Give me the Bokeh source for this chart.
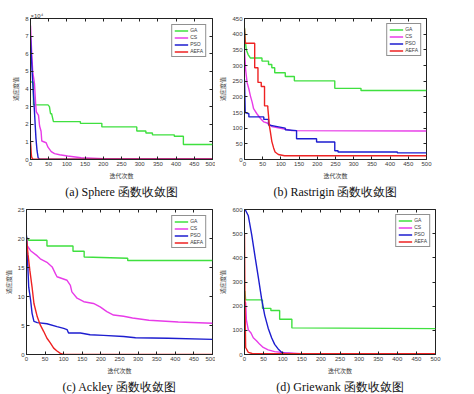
from bokeh.plotting import figure
from bokeh.layouts import column, row
from bokeh.models import Range1d, FixedTicker, LinearAxis, Legend, LegendItem, Title
from bokeh.embed import file_html
from bokeh.resources import INLINE

# ---------------- data ----------------
NAMES = ["GA", "CS", "PSO", "AEFA"]
ITER_TICKS = [0, 50, 100, 150, 200, 250, 300, 350, 400, 450, 500]

# (a) Sphere, values in units of 1e4
SPH_GA_x = [0, 8, 8, 48, 52, 55, 58, 63, 137, 137, 196, 196, 292, 292, 317, 317, 335, 335, 395, 395, 420, 420, 500]
SPH_GA_y = [4.4, 4.4, 3.1, 3.1, 3.0, 2.6, 2.6, 2.15, 2.15, 2.05, 2.05, 1.85, 1.85, 1.62, 1.62, 1.5, 1.5, 1.4, 1.4, 1.32, 1.32, 0.85, 0.85]
SPH_CS_x = [0, 3, 6, 11, 14, 16, 22, 25, 29, 31, 43, 48, 57, 66, 80, 102, 139, 200, 500]
SPH_CS_y = [7.6, 6.2, 5.0, 4.3, 3.2, 2.7, 2.5, 1.9, 1.6, 1.05, 0.95, 0.7, 0.45, 0.33, 0.27, 0.2, 0.1, 0.05, 0.03]
SPH_PSO_x = [0, 3, 6, 9, 12, 15, 18, 21, 25, 500]
SPH_PSO_y = [7.0, 5.6, 4.4, 3.4, 2.3, 1.2, 0.5, 0.1, 0.02, 0.02]
SPH_AEFA_x = [0, 1, 2, 3, 5, 8, 500]
SPH_AEFA_y = [1.0, 0.7, 0.35, 0.15, 0.05, 0.01, 0.01]
SPH_YTICKS = [0, 1, 2, 3, 4, 5, 6, 7, 8]

# (b) Rastrigin
RAS_GA_x = [0, 2, 5, 10, 16, 48, 48, 66, 66, 75, 75, 83, 83, 112, 112, 137, 137, 248, 248, 320, 320, 500]
RAS_GA_y = [420, 380, 350, 335, 324, 324, 314, 314, 303, 303, 293, 293, 277, 277, 265, 265, 251, 251, 227, 227, 220, 220]
RAS_CS_x = [0, 3, 7, 12, 16, 21, 25, 34, 44, 53, 66, 75, 103, 130, 500]
RAS_CS_y = [350, 288, 246, 225, 204, 183, 162, 146, 131, 120, 115, 105, 99, 92, 91]
RAS_PSO_x = [0, 2, 12, 12, 53, 53, 66, 66, 90, 112, 112, 143, 143, 198, 198, 248, 248, 257, 257, 420, 420, 500]
RAS_PSO_y = [256, 150, 146, 136, 136, 128, 128, 110, 105, 100, 95, 92, 66, 66, 56, 56, 28, 28, 24, 24, 21, 21]
RAS_AEFA_x = [0, 2, 28, 28, 37, 37, 46, 46, 55, 55, 64, 64, 66, 68, 71, 75, 80, 84, 93, 110, 500]
RAS_AEFA_y = [418, 371, 371, 293, 293, 246, 246, 233, 233, 171, 171, 165, 140, 110, 89, 58, 37, 24, 16, 12, 12]
RAS_YTICKS = [0, 50, 100, 150, 200, 250, 300, 350, 400, 450]

# (c) Ackley
ACK_GA_x = [0, 6, 6, 55, 55, 125, 125, 155, 155, 272, 272, 500]
ACK_GA_y = [20.2, 19.7, 19.7, 19.7, 18.7, 18.7, 17.8, 17.8, 16.8, 16.6, 16.2, 16.2]
ACK_CS_x = [0, 2, 11, 29, 37, 55, 69, 78, 82, 109, 118, 122, 136, 154, 180, 198, 216, 234, 261, 285, 329, 408, 500]
ACK_CS_y = [20.2, 18.75, 17.9, 17.0, 16.5, 15.9, 15.1, 13.9, 13.4, 12.8, 11.9, 10.8, 9.7, 9.1, 8.8, 8.2, 7.4, 6.8, 6.6, 6.3, 5.9, 5.6, 5.4]
ACK_PSO_x = [0, 4, 6, 11, 15, 20, 29, 55, 82, 100, 109, 113, 145, 171, 207, 261, 293, 381, 500]
ACK_PSO_y = [20.5, 14.5, 11.6, 9.4, 7.1, 5.7, 5.5, 5.3, 4.8, 4.5, 4.3, 3.7, 3.7, 3.4, 3.3, 3.1, 2.9, 2.8, 2.6]
ACK_AEFA_x = [0, 4, 9, 15, 20, 29, 37, 46, 55, 64, 73, 82, 91, 100, 500]
ACK_AEFA_y = [19.9, 17.3, 14.5, 11.6, 8.8, 6.5, 5.1, 4.0, 2.8, 2.0, 1.1, 0.6, 0.2, 0.02, 0.02]
ACK_YTICKS = [0, 5, 10, 15, 20, 25]

# (d) Griewank
GRI_GA_x = [0, 1, 3, 47, 47, 69, 69, 92, 92, 124, 124, 500]
GRI_GA_y = [262, 262, 226, 226, 191, 191, 182, 182, 146, 146, 110, 107]
GRI_CS_x = [0, 3, 5, 10, 17, 23, 32, 40, 49, 62, 79, 105, 148, 250, 500]
GRI_CS_y = [215, 215, 142, 102, 89, 69, 56, 42, 29, 19, 12, 7, 3, 3, 3]
GRI_PSO_x = [0, 3, 10, 19, 28, 36, 45, 53, 62, 71, 79, 88, 97, 105, 130, 500]
GRI_PSO_y = [598, 596, 574, 494, 401, 321, 228, 162, 109, 69, 42, 23, 9, 4, 3, 3]
GRI_AEFA_x = [0, 1, 3, 10, 20, 500]
GRI_AEFA_y = [500, 250, 29, 9, 4, 3]
GRI_YTICKS = [0, 100, 200, 300, 400, 500, 600]

COLORS = {"GA": "#3fe03f", "CS": "#e83be8", "PSO": "#1d1dcf", "AEFA": "#ee2222"}

TICK_FONT = "Liberation Sans"
CJK_FONT = "Noto Sans CJK SC"
TXT = "#3a3a3a"


def tick_axis(ticks):
    ax = LinearAxis(ticker=FixedTicker(ticks=ticks), major_label_text_font_size="1px",
                    major_label_text_alpha=0, major_label_standoff=0,
                    major_tick_in=3, major_tick_out=0, minor_tick_line_color=None,
                    axis_line_color=None, major_tick_line_color="#222222")
    return ax


def panel(width, height, borders, ymax, yticks, series, caption, legend_margin, top_title=None):
    left, right, top, bottom = borders
    p = figure(width=width, height=height, x_range=Range1d(0, 500), y_range=Range1d(0, ymax),
               output_backend="svg", toolbar_location=None, title=None,
               min_border_left=left, min_border_right=right,
               min_border_top=top, min_border_bottom=bottom,
               outline_line_color="#222222", outline_line_width=1,
               background_fill_color="white", border_fill_color="white")
    p.grid.visible = False
    p.xaxis.ticker = FixedTicker(ticks=ITER_TICKS)
    p.yaxis.ticker = FixedTicker(ticks=yticks)
    for ax in (p.xaxis[0], p.yaxis[0]):
        ax.major_tick_in = 3
        ax.major_tick_out = 0
        ax.minor_tick_line_color = None
        ax.axis_line_color = "#222222"
        ax.major_tick_line_color = "#222222"
        ax.major_label_text_font = TICK_FONT
        ax.major_label_text_font_size = "6px"
        ax.major_label_text_color = TXT
        ax.major_label_standoff = 2
        ax.axis_label_text_font = CJK_FONT
        ax.axis_label_text_font_size = "6px"
        ax.axis_label_text_font_style = "normal"
        ax.axis_label_text_color = TXT
        ax.axis_label_standoff = 2
    p.xaxis.axis_label = "迭代次数"
    p.yaxis.axis_label = "适应度值"
    p.add_layout(tick_axis(yticks), "right")
    p.add_layout(tick_axis(ITER_TICKS), "above")
    if top_title:
        p.add_layout(Title(text=top_title, align="left", text_font=TICK_FONT, text_font_size="6px",
                           text_font_style="normal", text_color=TXT, standoff=0), "above")

    items = []
    for name, (xs, ys) in zip(NAMES, series):
        r = p.line(xs, ys, line_color=COLORS[name], line_width=1.4)
        items.append(LegendItem(label=name, renderers=[r]))
    legend = Legend(items=items, location="top_right", margin=legend_margin,
                    label_text_font=TICK_FONT, label_text_font_size="5px", label_text_color=TXT,
                    label_height=5, label_width=10, glyph_height=5, glyph_width=14, label_standoff=2,
                    spacing=1, padding=2, border_line_color="#222222", border_line_width=0.8,
                    background_fill_color="white", background_fill_alpha=1)
    p.add_layout(legend)
    p.add_layout(Title(text=caption, align="center", text_font="Liberation Serif",
                       text_font_size="12px", text_font_style="normal", text_color="#111111",
                       standoff=1), "below")
    return p


pa = panel(215, 199, (30, 3, 18, 38), 8, SPH_YTICKS,
           [(SPH_GA_x, SPH_GA_y), (SPH_CS_x, SPH_CS_y), (SPH_PSO_x, SPH_PSO_y), (SPH_AEFA_x, SPH_AEFA_y)],
           "(a) Sphere 函数收敛图", 6, top_title="×10⁴")

pb = panel(259, 199, (28, 48, 18, 37), 450, RAS_YTICKS,
           [(RAS_GA_x, RAS_GA_y), (RAS_CS_x, RAS_CS_y), (RAS_PSO_x, RAS_PSO_y), (RAS_AEFA_x, RAS_AEFA_y)],
           "(b) Rastrigin 函数收敛图", 5)

pc = panel(215, 195, (22, 3, 10, 38), 25, ACK_YTICKS,
           [(ACK_GA_x, ACK_GA_y), (ACK_CS_x, ACK_CS_y), (ACK_PSO_x, ACK_PSO_y), (ACK_AEFA_x, ACK_AEFA_y)],
           "(c) Ackley 函数收敛图", 6)

pd_ = panel(259, 195, (25, 39, 9, 38), 600, GRI_YTICKS,
            [(GRI_GA_x, GRI_GA_y), (GRI_CS_x, GRI_CS_y), (GRI_PSO_x, GRI_PSO_y), (GRI_AEFA_x, GRI_AEFA_y)],
            "(d) Griewank 函数收敛图", 5)

layout = column(row(pa, pb), row(pc, pd_))
open("out.html", "w").write(file_html(layout, INLINE))
